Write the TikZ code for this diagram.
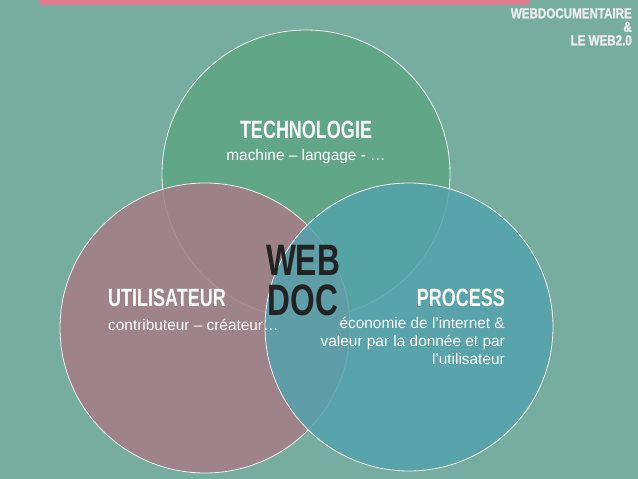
\documentclass[tikz,border=0pt]{standalone}
\usepackage{fontspec}
\setmainfont{Liberation Sans}
\newfontfamily\cond[FakeStretch=0.72]{Liberation Sans Bold}
\newfontfamily\condb[FakeStretch=0.8,FakeBold=1.5]{Liberation Sans Bold}
\usetikzlibrary{shadows}
\definecolor{bg}{HTML}{76AD9F}
\definecolor{ctop}{HTML}{5FA585}
\definecolor{cleft}{HTML}{A77C88}
\definecolor{cright}{HTML}{55A3AC}
\definecolor{bar}{HTML}{E07A90}
\definecolor{dark}{HTML}{222222}
\tikzset{
  venn/.style={draw=white!90!gray, line width=0.8pt, fill opacity=0.85},
  ttl/.style={font=\cond\fontsize{25}{25}\selectfont, text=white, inner sep=0pt},
  body/.style={font=\fontsize{15.4}{18}\selectfont, text=white, inner sep=0pt},
  big/.style={font=\cond\fontsize{44}{44}\selectfont, text=dark, inner sep=0pt},
  corner/.style={font=\condb\fontsize{14.5}{13.5}\selectfont, text=white!85!gray, inner sep=0pt, align=right}
}
\begin{document}
\begin{tikzpicture}[x=1pt,y=-1pt]
\fill[bg] (0,0) rectangle (638,479);
\useasboundingbox (0,0) rectangle (638,479);
\fill[bar] (40,0) rectangle (530,5);
\path[venn, fill=ctop] (306,174) circle (144);
\path[venn, fill=cleft] (205,328) circle (145);
\path[venn, fill=cright] (409,327) circle (144);
\node[corner, anchor=north east] (corner) at (632,8) {WEBDOCUMENTAIRE\\\&\\LE WEB2.0};
\node[ttl] (tech) at (306,130) {TECHNOLOGIE};
\node[body] (techb) at (306,157) {machine – langage - …};
\node[ttl, anchor=west] (util) at (108,298) {UTILISATEUR};
\node[body, anchor=west] (utilb) at (108,325) {contributeur – créateur…};
\node[ttl, anchor=east] (proc) at (505,298) {PROCESS};
\node[body, anchor=north east, align=right] (procb) at (505,317) {économie de l’internet \&\\valeur par la donnée et par\\l’utilisateur};
\node[big] (web) at (303,260) {WEB};
\node[big] (doc) at (303,300) {DOC};
\end{tikzpicture}
\end{document}
